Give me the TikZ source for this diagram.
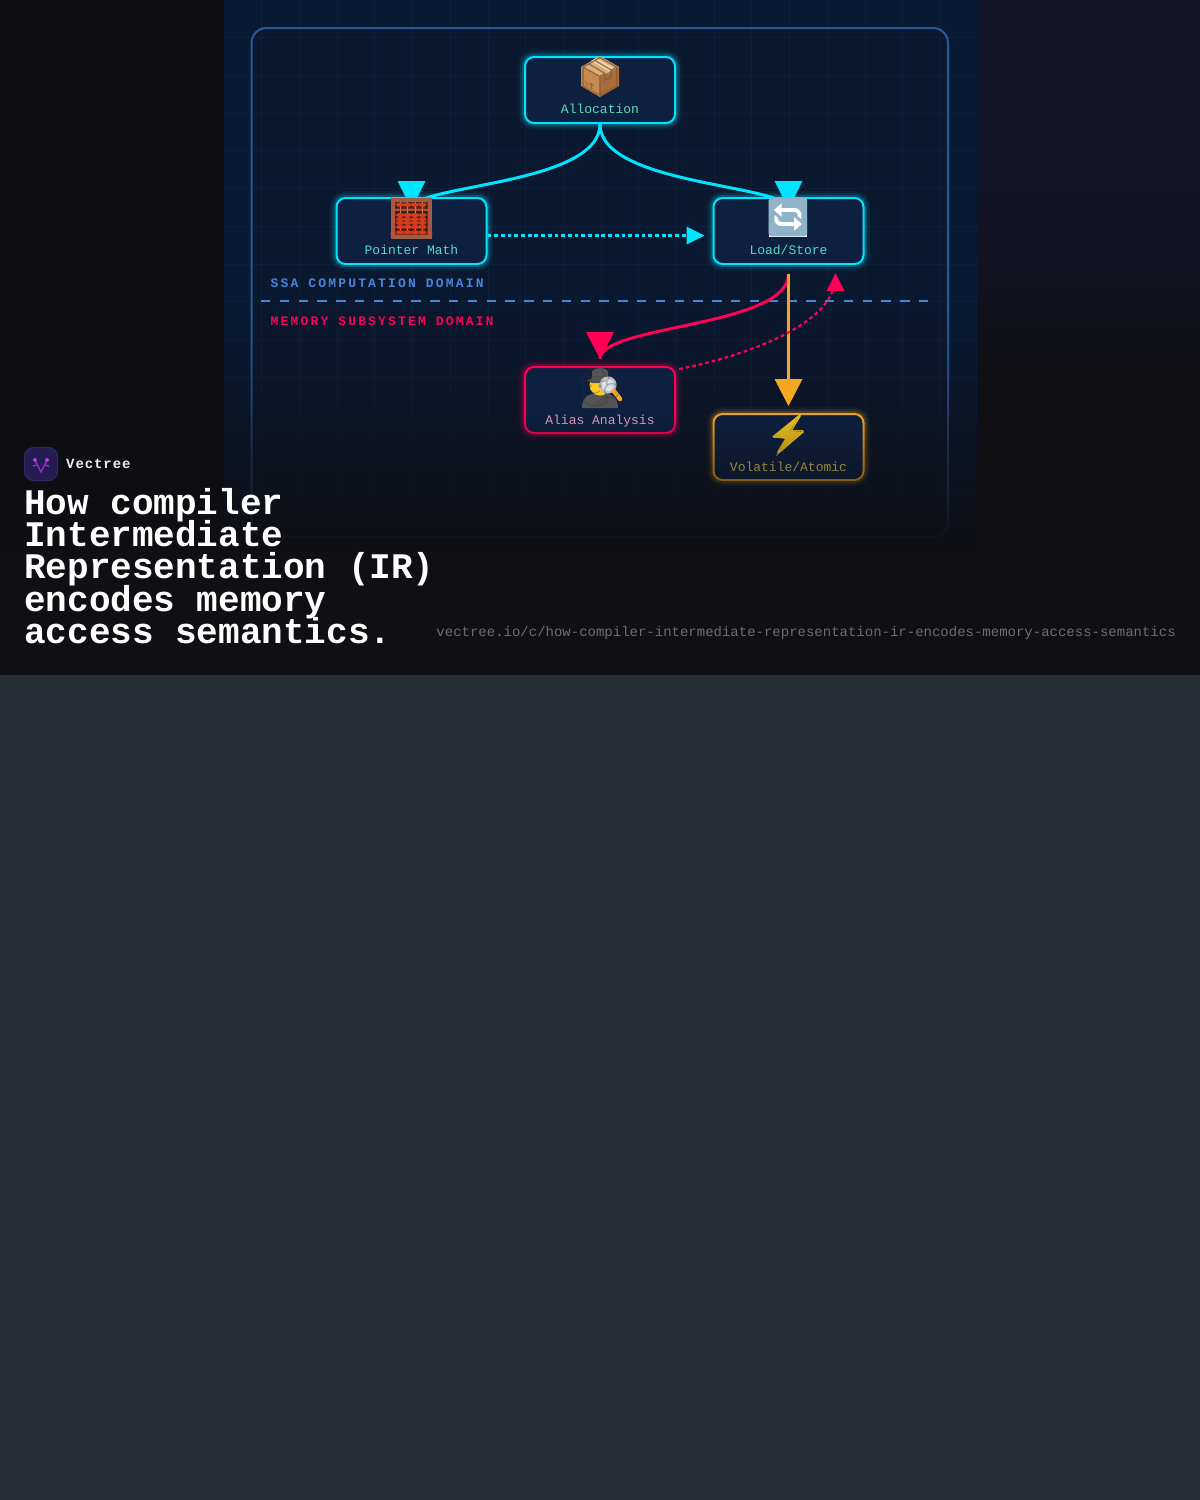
\documentclass[tikz,border=0pt]{standalone}
\usepackage{fontspec}
\setmonofont{Liberation Mono}
\newfontfamily\emojifont{Noto Emoji}
\usetikzlibrary{calc,fadings,shapes.geometric}
\pgfdeclarelayer{panelback}\pgfdeclarelayer{edges}\pgfdeclarelayer{icons}\pgfdeclarelayer{veil}\pgfdeclarelayer{topmost}
\pgfsetlayers{panelback,edges,main,icons,veil,topmost}
\normallineskiplimit=-100pt
\definecolor{pagebg}{HTML}{272D35}
\definecolor{cardbg}{HTML}{0F0F14}
\definecolor{leftbg}{HTML}{0E0D11}
\definecolor{rightbg}{HTML}{15152A}
\definecolor{panelbg}{HTML}{081A34}
\definecolor{innerbg}{HTML}{0A1830}
\definecolor{gridc}{HTML}{0E1F3A}
\definecolor{framec}{HTML}{2A5A9A}
\definecolor{nodebg}{HTML}{0D2040}
\definecolor{cyanc}{HTML}{00E5FF}
\definecolor{redc}{HTML}{FF0055}
\definecolor{orangec}{HTML}{F5A623}
\definecolor{bluec}{HTML}{4A84D8}
\definecolor{labteal}{HTML}{5FD6C0}
\definecolor{labpink}{HTML}{E4A4C0}
\definecolor{labgold}{HTML}{F0D45A}
\definecolor{boxA}{HTML}{C68A50}
\definecolor{boxB}{HTML}{A86C3C}
\definecolor{boxC}{HTML}{DBAE7E}
\definecolor{boxD}{HTML}{EFD5B0}
\definecolor{boxE}{HTML}{8A5A30}
\definecolor{abaA}{HTML}{9A5F4A}
\definecolor{abaB}{HTML}{2A1C1C}
\definecolor{abaC}{HTML}{8A5A48}
\definecolor{abaD}{HTML}{C89060}
\definecolor{abaE}{HTML}{D23A18}
\definecolor{abaF}{HTML}{E04020}
\definecolor{repA}{HTML}{8FB3C8}
\definecolor{detA}{HTML}{555555}
\definecolor{detB}{HTML}{FFC928}
\definecolor{detC}{HTML}{BDBDBD}
\definecolor{detD}{HTML}{D8E4EA}
\definecolor{detE}{HTML}{F9A825}
\definecolor{detF}{HTML}{333333}
\definecolor{boltA}{HTML}{F6C81E}
\definecolor{logoA}{HTML}{241C52}
\definecolor{logoB}{HTML}{2E2A66}
\definecolor{logoC}{HTML}{B040D8}
\definecolor{logoD}{HTML}{9030C0}
\definecolor{brandc}{HTML}{EDEDED}
\definecolor{urlc}{HTML}{6E6E72}
\tikzfading[name=veilfade, top color=transparent!100, bottom color=transparent!0]
\tikzset{
  x=1pt,y=-1pt,
  glownode/.style={rectangle,rounded corners=9pt,minimum width=150pt,minimum height=66pt,inner sep=0pt,fill=nodebg,draw=#1,line width=2pt,
    preaction={draw=#1,line width=14pt,opacity=.05},
    preaction={draw=#1,line width=10pt,opacity=.09},
    preaction={draw=#1,line width=6pt,opacity=.18}},
  nodelabel/.style={font=\ttfamily\fontsize{13}{13}\selectfont,text=#1,inner sep=0pt,anchor=base},
  iconglyph/.style={font=\emojifont\fontsize{38}{38}\selectfont,text=#1,inner sep=0pt},
  solidedge/.style={draw=#1,line width=3pt},
  dotedge/.style={draw=#1,line width=2.2pt,dash pattern=on 3.8pt off 2.9pt},
  domain/.style={font=\ttfamily\bfseries\fontsize{13}{13}\selectfont\addfontfeature{LetterSpace=16.7},text=#1,inner sep=0pt,anchor=base west},
}
\begin{document}
\begin{tikzpicture}
\lineskiplimit=-100pt
\useasboundingbox (0,0) rectangle (1200,1500);
\begin{pgfonlayer}{panelback}
\fill[pagebg] (0,675) rectangle (1200,1500);
\fill[cardbg] (0,0) rectangle (1200,675);
\fill[leftbg] (0,0) rectangle (224,675);
\fill[rightbg] (977,0) rectangle (1200,170);
\shade[top color=rightbg,bottom color=cardbg] (977,170) rectangle (1200,380);
\fill[panelbg] (224,0) rectangle (977,560);
\fill[innerbg,rounded corners=15pt] (251.5,28) rectangle (948,537);
\foreach \i in {1,...,19} \draw[gridc,line width=.8pt] (224+37.7*\i,0) -- (224+37.7*\i,560);
\foreach \i in {1,...,14} \draw[gridc,line width=.8pt] (224,37.7*\i) -- (977,37.7*\i);
\draw[framec,line width=2pt,rounded corners=15pt] (251.5,28) rectangle (948,537);
\draw[bluec,line width=2pt,dash pattern=on 9.4pt off 9.4pt] (261,301) -- (930,301);
\fill[cardbg,opacity=.4,path fading=veilfade] (224,310) rectangle (977,420);
\fill[cardbg,opacity=.4] (224,420) rectangle (977,560);
\end{pgfonlayer}

\node[glownode=cyanc] (alloc) at (600,90) {};
\node[glownode=cyanc] (ptr) at (411.5,231) {};
\node[glownode=cyanc] (load) at (788.5,231) {};
\node[glownode=redc] (alias) at (600,400) {};
\node[glownode=orangec] (vol) at (788.5,447) {};

\node[nodelabel=labteal] (allocL) at (600,113) {Allocation};
\node[nodelabel=labteal] (ptrL) at (411.5,254) {Pointer Math};
\node[nodelabel=labteal] (loadL) at (788.5,254) {Load/Store};
\node[nodelabel=labpink] (aliasL) at (600,424) {Alias Analysis};
\node[nodelabel=labgold] (volL) at (788.5,471) {Volatile/Atomic};

\node[domain=bluec] (ssa) at (270.5,287) {SSA COMPUTATION DOMAIN};
\node[domain=redc] (mem) at (270.5,325) {MEMORY SUBSYSTEM DOMAIN};

\begin{pgfonlayer}{edges}
\draw[solidedge=cyanc] (alloc.south) .. controls ([shift={(0,62)}]alloc.south) and ([shift={(0,-13)}]ptr.north) .. ([shift={(0,12)}]ptr.north);
\fill[cyanc] ([shift={(-14,-16)}]ptr.north) -- ([shift={(14,-16)}]ptr.north) -- ([shift={(0,12)}]ptr.north) -- cycle;
\draw[solidedge=cyanc] (alloc.south) .. controls ([shift={(0,62)}]alloc.south) and ([shift={(0,-13)}]load.north) .. ([shift={(0,12)}]load.north);
\fill[cyanc] ([shift={(-14,-16)}]load.north) -- ([shift={(14,-16)}]load.north) -- ([shift={(0,12)}]load.north) -- cycle;
\draw[dotedge=cyanc] ([shift={(0,4.5)}]ptr.east) -- ([shift={(-26,4.5)}]load.west);
\fill[cyanc] ([shift={(-26,-4.5)}]load.west) -- ([shift={(-26,13.5)}]load.west) -- ([shift={(-8,4.5)}]load.west) -- cycle;
\draw[solidedge=redc] ([shift={(0,9)}]load.south) .. controls ([shift={(0,62)}]load.south) and ([shift={(0,-41)}]alias.north) .. ([shift={(0,-7)}]alias.north);
\fill[redc] ([shift={(-14,-34)}]alias.north) -- ([shift={(14,-34)}]alias.north) -- ([shift={(0,-7)}]alias.north) -- cycle;
\draw[solidedge=orangec] ([shift={(0,9)}]load.south) -- ([shift={(0,-34)}]vol.north);
\fill[orangec] ([shift={(-14,-34)}]vol.north) -- ([shift={(14,-34)}]vol.north) -- ([shift={(0,-7)}]vol.north) -- cycle;
\draw[dotedge=redc] ([shift={(3,3)}]alias.north east) .. controls ([shift={(65,-9)}]alias.north east) and ([shift={(30,64)}]load.south) .. ([shift={(44,26)}]load.south);
\fill[redc] ([shift={(38,26)}]load.south) -- ([shift={(56,26)}]load.south) -- ([shift={(47,8)}]load.south) -- cycle;
\end{pgfonlayer}

\begin{pgfonlayer}{icons}
% package
\begin{scope}[shift={(600,77)}]
\fill[boxA] (0,0) -- (-19,-10) -- (-19,9) -- (0,20) -- cycle;
\fill[boxB] (0,0) -- (19,-10) -- (19,9) -- (0,20) -- cycle;
\fill[boxC] (0,-21) -- (19,-10) -- (0,0) -- (-19,-10) -- cycle;
\fill[boxD] (-9,-16) -- (-4,-19) -- (14,-9) -- (9,-6) -- cycle;
\end{scope}
% abacus
\begin{scope}[shift={(411.5,218)}]
\fill[abaA] (-20.5,-20.5) rectangle (20.5,20.5);
\fill[abaB] (-16.5,-16.5) rectangle (16.5,16.5);
\fill[abaC] (-16.5,-9) rectangle (16.5,-7);
\foreach \x in {-11.5,-4,3.5,11} {
 \draw[abaD,line width=1pt] (\x,-16) -- (\x,16);
 \foreach \y in {-13,-3,1,5,9,14} \fill[abaE] (\x,\y) ellipse (4pt and 2pt);
}
\end{scope}
% repeat
\fill[white] (769,199) rectangle (807,237);
% detective
\begin{scope}[shift={(600,388)}]
\fill[detA] (-18,20) .. controls (-18,8) and (-10,5) .. (0,5) .. controls (10,5) and (18,8) .. (18,20) -- cycle;
\fill[detB] (0,-3) circle (10.5pt);
\fill[detA] (-13,-8) -- (-8,-9) -- (-8,-17) .. controls (-4,-21) and (4,-21) .. (8,-17) -- (8,-9) -- (13,-8) -- (8,-5) -- (-8,-5) -- cycle;
\draw[detC,line width=2.2pt,fill=detD] (8,-3) circle (7.5pt);
\draw[detE,line width=4.5pt,line cap=round] (14,3) -- (20,11);
\end{scope}
% bolt
\fill[boltA] (800,415) -- (772,437) -- (786,439) -- (776,456) -- (804,432) -- (790,431) -- cycle;
\node[iconglyph=boxE,opacity=.8] (allocI) at (600,77) {📦};
\node[iconglyph=abaF,opacity=.5] (ptrI) at (411.5,218) {🧮};
\node[iconglyph=repA] (loadI) at (788,218) {🔄};
\node[iconglyph=detF,opacity=.3] (aliasI) at (600,388) {🕵};
\node[iconglyph=boltA] (volI) at (788.5,435) {⚡};
\end{pgfonlayer}

\begin{pgfonlayer}{veil}
\fill[cardbg,path fading=veilfade] (0,410) rectangle (1200,550);
\fill[cardbg] (0,550) rectangle (1200,675);
\end{pgfonlayer}

\begin{pgfonlayer}{topmost}
\fill[logoA,draw=logoB,line width=1pt,rounded corners=9pt] (24.5,447.5) rectangle (57.5,480.5);
\node[circle,fill=logoC,inner sep=0pt,minimum size=4pt] (lga) at (35,460) {};
\node[circle,fill=logoC,inner sep=0pt,minimum size=4pt] (lgb) at (47,460) {};
\coordinate (lgc) at (41,472);
\coordinate (lgd) at (33,466);
\coordinate (lge) at (49,466);
\coordinate (lgf) at (37.5,465);
\coordinate (lgg) at (44.5,465);
\draw[logoD,line width=1.5pt] (lga) -- (lgc) -- (lgb) (lgd) -- (lgf) (lge) -- (lgg);
\node[font=\ttfamily\bfseries\fontsize{14}{14}\selectfont\addfontfeature{LetterSpace=6.6},text=brandc,inner sep=0pt,anchor=base west] (brand) at (66,468) {Vectree};
\node[font=\ttfamily\bfseries\fontsize{36}{32.3}\selectfont,text=white,inner sep=0pt,anchor=north west,align=left] (title) at (24,488) {How compiler\\Intermediate\\Representation (IR)\\encodes memory\\access semantics.};
\node[font=\ttfamily\fontsize{14}{14}\selectfont,text=urlc,inner sep=0pt,anchor=base east] (url) at (1176,636.5) {vectree.io/c/how-compiler-intermediate-representation-ir-encodes-memory-access-semantics};
\end{pgfonlayer}
\end{tikzpicture}
\end{document}
